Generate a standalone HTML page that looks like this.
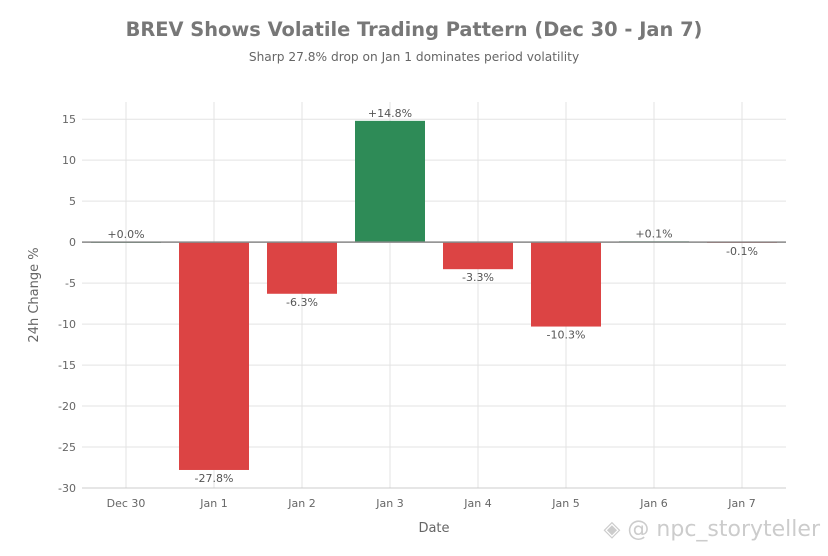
<!DOCTYPE html>
<html><head><meta charset="utf-8"><style>
body{margin:0;background:#fff;width:828px;height:552px;overflow:hidden;font-family:"DejaVu Sans",sans-serif}
</style></head><body>
<svg id="c" width="828" height="552" xmlns="http://www.w3.org/2000/svg" font-family="DejaVu Sans, sans-serif">
<text x="414" y="36" text-anchor="middle" font-size="19.4" font-weight="bold" fill="#777">BREV Shows Volatile Trading Pattern (Dec 30 - Jan 7)</text>
<text x="414" y="61" text-anchor="middle" font-size="12.2" fill="#666">Sharp 27.8% drop on Jan 1 dominates period volatility</text>
<text x="434" y="532" text-anchor="middle" font-size="13" fill="#666">Date</text>
<text transform="translate(38,295) rotate(-90)" text-anchor="middle" font-size="13" fill="#666">24h Change %</text>
<g id="grid"></g><g id="bars"></g><g id="labels"></g>
<text x="820" y="536" text-anchor="end" font-size="22" fill="#ccc">◈ @ npc_storyteller</text>
</svg>
<script>
const categories=["Dec 30","Jan 1","Jan 2","Jan 3","Jan 4","Jan 5","Jan 6","Jan 7"];
const values=[0.0,-27.8,-6.3,14.8,-3.3,-10.3,0.1,-0.1];
const valueLabels=["+0.0%","-27.8%","-6.3%","+14.8%","-3.3%","-10.3%","+0.1%","-0.1%"];
const yTicks=[15,10,5,0,-5,-10,-15,-20,-25,-30];
const L=82,R=786,T=102,B=488,yMax=17.1,yMin=-30;
const ns="http://www.w3.org/2000/svg";
const step=(R-L)/categories.length;
const x=i=>L+step*(i+0.5);
const y=v=>T+(yMax-v)/(yMax-yMin)*(B-T);
function mk(t,a,p,txt){const e=document.createElementNS(ns,t);for(const k in a)e.setAttribute(k,a[k]);if(txt!==undefined)e.textContent=txt;p.appendChild(e);return e;}
const g=document.getElementById('grid'),bg=document.getElementById('bars'),lg=document.getElementById('labels');
yTicks.forEach(t=>{
 const l=mk('line',{x1:L,x2:R,y1:y(t),y2:y(t),stroke:'#e3e3e3','stroke-width':1},g);
 
 
 const tx=mk('text',{x:L-6,y:y(t)+4,'text-anchor':'end','font-size':11,fill:'#666'},g,String(t));
 
 
});
categories.forEach((c,i)=>{
 const l=mk('line',{x1:x(i),x2:x(i),y1:T,y2:B,stroke:'#e3e3e3','stroke-width':1},g);
 
 
 const tx=mk('text',{x:x(i),y:B+19,'text-anchor':'middle','font-size':11,fill:'#666'},g,c);
 
 
});
const ax=mk('line',{x1:L,x2:R,y1:B,y2:B,stroke:'#ccc'},g);


const bw=70;
values.forEach((v,i)=>{
 const y0=y(0),y1=y(v);
 const r=mk('rect',{x:x(i)-bw/2,y:Math.min(y0,y1),width:bw,height:Math.max(Math.abs(y1-y0),0.8),fill:v>=0?'#2e8b57':'#dc4444'},bg);
 
 
 const ly=v>=0?Math.min(y0,y1)-4:Math.max(y0,y1)+12;
 const t=mk('text',{x:x(i),y:ly,'text-anchor':'middle','font-size':11,fill:'#555'},lg,valueLabels[i]);
 
 
});
const z=mk('line',{x1:L,x2:R,y1:y(0),y2:y(0),stroke:'#888','stroke-width':1.5},bg);


</script>
</body></html>
